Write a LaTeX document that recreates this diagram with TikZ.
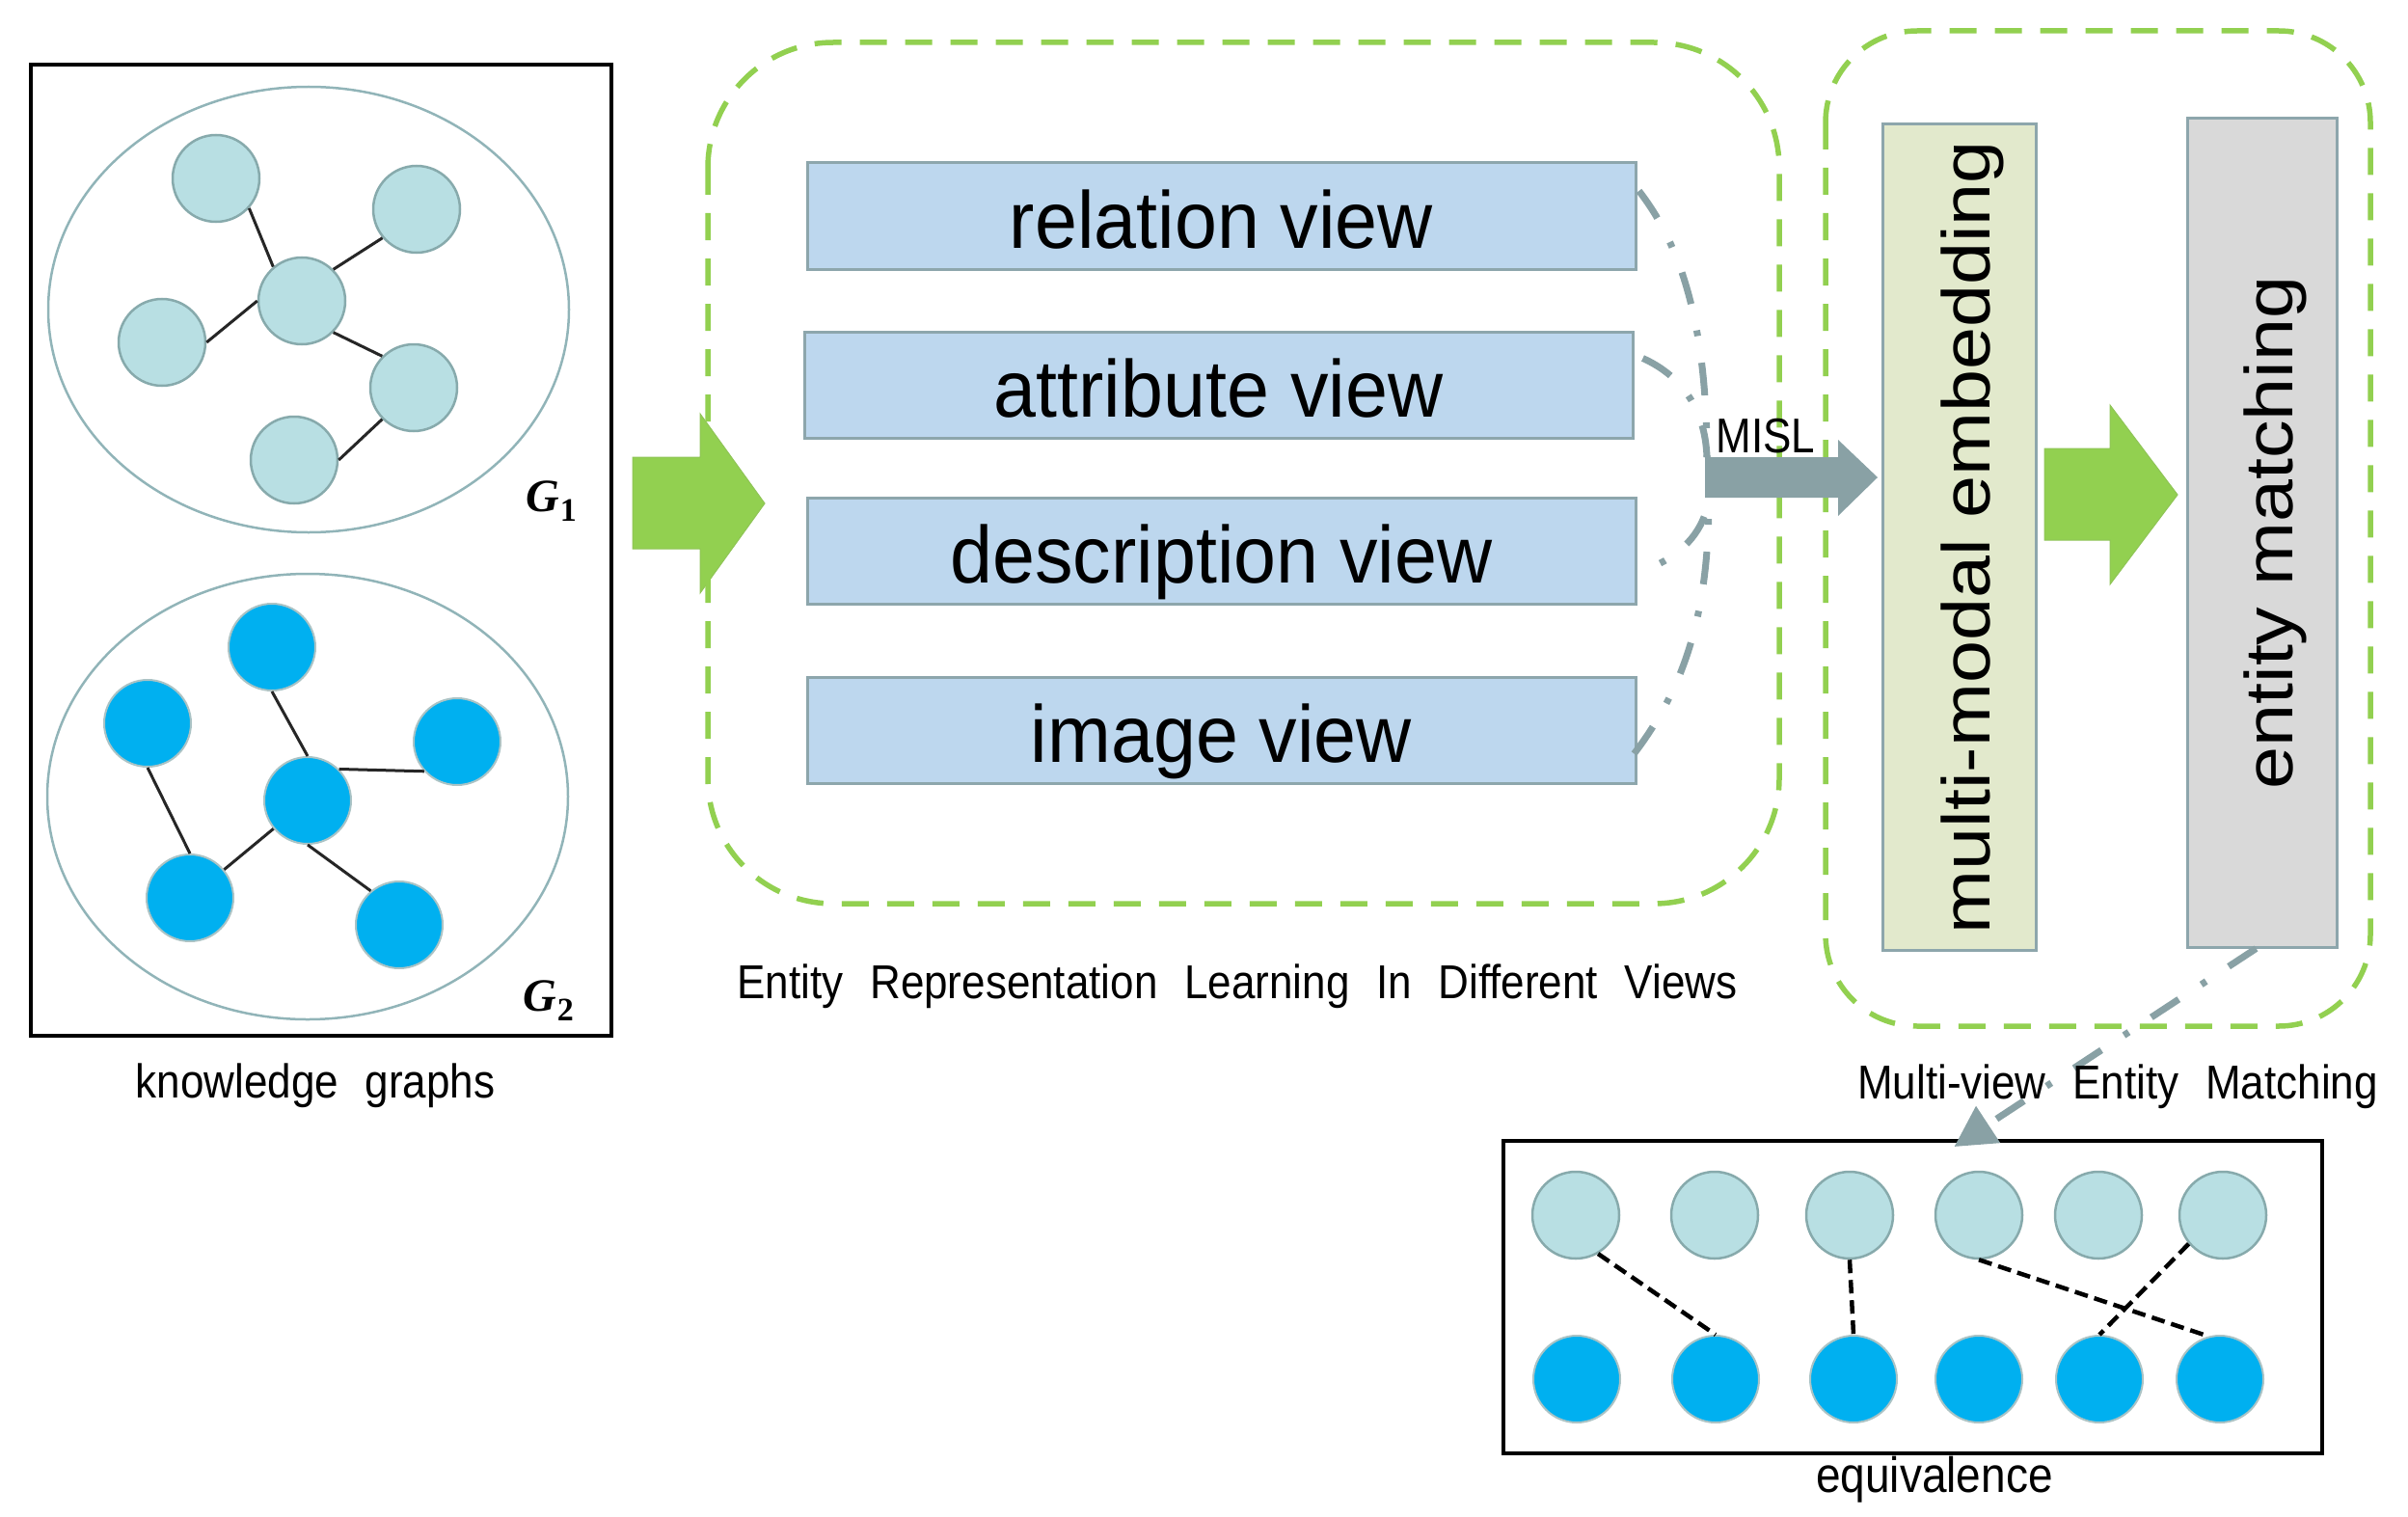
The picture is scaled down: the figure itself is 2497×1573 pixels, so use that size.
\documentclass[tikz,border=0pt]{standalone}
\usepackage{fontspec}
\setmainfont{Liberation Sans}
\newfontfamily\gfont{Liberation Serif}
\usepackage{graphicx}
\usetikzlibrary{arrows.meta,calc,shapes.geometric}
\definecolor{kgreen}{RGB}{146,208,80}
\definecolor{vblue}{RGB}{189,215,238}
\definecolor{vborder}{RGB}{141,166,172}
\definecolor{arrgrey}{RGB}{137,161,165}
\definecolor{lteal}{RGB}{184,223,227}
\definecolor{dblue}{RGB}{0,176,240}
\definecolor{nborder}{RGB}{135,170,172}
\definecolor{embfill}{RGB}{226,233,204}
\definecolor{matchfill}{RGB}{217,217,217}
\definecolor{ellcol}{RGB}{145,180,184}
\newcommand{\wsp}{\hspace{0.63em}}
\newcommand{\lbl}[1]{\scalebox{1}[1.12]{#1}}
\newcommand{\vtxt}[1]{\scalebox{1}[1.06]{#1}}
\newcommand{\rtxt}[1]{\scalebox{1.13}[1]{#1}}
\newcommand{\glab}[1]{{\gfont\bfseries\itshape\fontsize{48}{50}\selectfont G}\kern1pt\raisebox{-10pt}{\gfont\bfseries\fontsize{34}{36}\selectfont #1}}
\begin{document}
\begin{tikzpicture}[x=1pt,y=-1pt,
  ent1/.style={circle,draw=nborder,fill=lteal,line width=2.5pt,minimum size=90pt,inner sep=0pt},
  ent2/.style={circle,draw=nborder!70,fill=dblue,line width=2pt,minimum size=90pt,inner sep=0pt},
  kgedge/.style={line width=3pt,black!85},
  viewbox/.style={draw=vborder,fill=vblue,line width=3pt,minimum width=859pt,minimum height=110pt,inner sep=0pt,font=\fontsize{79}{90}\selectfont,text height=66pt,text depth=0pt},
  vertbox/.style={draw=vborder,line width=3pt,rotate=90,inner sep=0pt,font=\fontsize{70}{80}\selectfont,text height=64pt,text depth=0pt},
  greendash/.style={draw=kgreen,line width=5.5pt,dash pattern=on 28pt off 19pt},
  dashdot/.style={draw=arrgrey,line width=7pt,dash pattern=on 34pt off 28pt on 6pt off 28pt},
  caption/.style={font=\fontsize{44}{50}\selectfont,anchor=base,inner sep=0pt},
  eqline/.style={line width=4.5pt,dash pattern=on 14pt off 7pt},
  blockarrow/.style={fill=kgreen,draw=kgreen!85!gray,line width=1pt}
]
\useasboundingbox (0,0) rectangle (2497,1573);

% ---------- knowledge graphs ----------
\node[draw=black,line width=3.5pt,minimum width=602pt,minimum height=1007pt,inner sep=0pt] (kgbox) at (333,570.5) {};
\node[ellipse,draw=ellcol,line width=2.5pt,minimum width=540pt,minimum height=462pt,inner sep=0pt] (g1) at (320,321) {};
\node[ellipse,draw=ellcol,line width=2.5pt,minimum width=540pt,minimum height=462pt,inner sep=0pt] (g2) at (319,826) {};

\node[ent1] (a1) at (224,185) {};
\node[ent1] (a2) at (432,217) {};
\node[ent1] (a3) at (313,312) {};
\node[ent1] (a4) at (168,355) {};
\node[ent1] (a5) at (429,402) {};
\node[ent1] (a6) at (305,477) {};
\draw[kgedge] (a1.-42) -- (a3.130);
\draw[kgedge] (a3.45) -- (a2.220);
\draw[kgedge] (a4.east) -- (a3.west);
\draw[kgedge] (a3.-45) -- (a5.135);
\draw[kgedge] (a6.east) -- (a5.225);

\node[ent2] (b1) at (282,671) {};
\node[ent2] (b2) at (153,750) {};
\node[ent2] (b3) at (319,830) {};
\node[ent2] (b4) at (474,769) {};
\node[ent2] (b5) at (197,931) {};
\node[ent2] (b6) at (414,959) {};
\draw[kgedge] (b1.south) -- (b3.north);
\draw[kgedge] (b3.45) -- (b4.222);
\draw[kgedge] (b2.south) -- (b5.north);
\draw[kgedge] (b5) -- (b3);
\draw[kgedge] (b3.south) -- (b6.130);

\node[anchor=base west,inner sep=0pt] (g1lab) at (545,530) {\glab{1}};
\node[anchor=base west,inner sep=0pt] (g2lab) at (542,1048) {\glab{2}};
\node[caption] (kglabel) at (327,1138) {\lbl{knowledge\wsp graphs}};

\fill[blockarrow] (656,474) -- (726,474) -- (726,429) -- (793,522) -- (726,615) -- (726,569) -- (656,569) -- cycle;

% ---------- views ----------
\draw[greendash,rounded corners=130pt] (734,44) rectangle (1845,937);
\node[viewbox] (rel)  at (1266.5,224)   {\vtxt{relation view}};
\node[viewbox] (att)  at (1263.5,399.5) {\vtxt{attribute view}};
\node[viewbox] (desc) at (1266.5,571)   {\vtxt{description view}};
\node[viewbox] (img)  at (1266.5,757.5) {\vtxt{image view}};
\node[caption] (erl) at (1283,1035) {\lbl{Entity\wsp Representation\wsp Learning\wsp In\wsp Different\wsp Views}};

\coordinate (mislT) at (1770,474);
\coordinate (mislB) at (1772,516);
\draw[dashdot] ($(rel.east)+(2,-26)$) .. controls (1740,250) and (1770,330) .. (mislT);
\draw[dashdot] ($(att.east)+(9,-28)$) .. controls (1740,388) and (1768,420) .. (mislT);
\draw[dashdot,dash phase=62pt] ($(desc.east)+(24,13)$) .. controls (1745,572) and (1768,550) .. (mislB);
\draw[dashdot] ($(img.east)+(-3,24)$) .. controls (1745,715) and (1772,640) .. (mislB);

% ---------- matching ----------
\draw[greendash,rounded corners=95pt] (1893,32) rectangle (2458,1064);
\fill[arrgrey] (1768,474) -- (1906,474) -- (1906,456) -- (1947,495) -- (1906,535) -- (1906,516) -- (1768,516) -- cycle;
\node[font=\fontsize{44}{50}\selectfont,anchor=base,inner sep=0pt] (misl) at (1831,469) {\scalebox{1}[1.15]{MISL}};

\node[vertbox,fill=embfill,minimum width=856pt,minimum height=159pt] (mm) at (2031.5,557) {\rtxt{multi-modal embedding}};
\node[vertbox,fill=matchfill,minimum width=859pt,minimum height=155pt] (match) at (2345.5,552.5) {\rtxt{entity matching}};
\fill[blockarrow] (2120,465) -- (2188,465) -- (2188,420) -- (2258,513) -- (2188,606) -- (2188,560) -- (2120,560) -- cycle;

% ---------- equivalence ----------
\node[draw=black,line width=4pt,minimum width=849pt,minimum height=324pt,inner sep=0pt] (eqbox) at (1983.5,1345) {};
\node[ent1] (t1) at (1634,1260) {};
\node[ent1] (t2) at (1778,1260) {};
\node[ent1] (t3) at (1918,1260) {};
\node[ent1] (t4) at (2052,1260) {};
\node[ent1] (t5) at (2176,1260) {};
\node[ent1] (t6) at (2305,1260) {};
\node[ent2] (u1) at (1635,1430) {};
\node[ent2] (u2) at (1779,1430) {};
\node[ent2] (u3) at (1922,1430) {};
\node[ent2] (u4) at (2052,1430) {};
\node[ent2] (u5) at (2177,1430) {};
\node[ent2] (u6) at (2302,1430) {};
\draw[eqline] (t1.-60) -- (u2.north);
\draw[eqline] (t3.south) -- (u3.north);
\draw[eqline] (t4.south) -- (u6.105);
\draw[eqline] (t6.-140) -- (u5.north);

\draw[dashdot,-{Triangle[length=42pt,width=44pt]}] ($(match.west)+(-6,0)$) -- ($(eqbox.north)+(43,8)$);

\node[caption] (mvem) at (2196,1139) {\lbl{Multi-view\wsp Entity\wsp Matching}};
\node[caption,font=\fontsize{46}{50}\selectfont] (equiv) at (2006,1547) {\lbl{equivalence}};
\end{tikzpicture}
\end{document}
